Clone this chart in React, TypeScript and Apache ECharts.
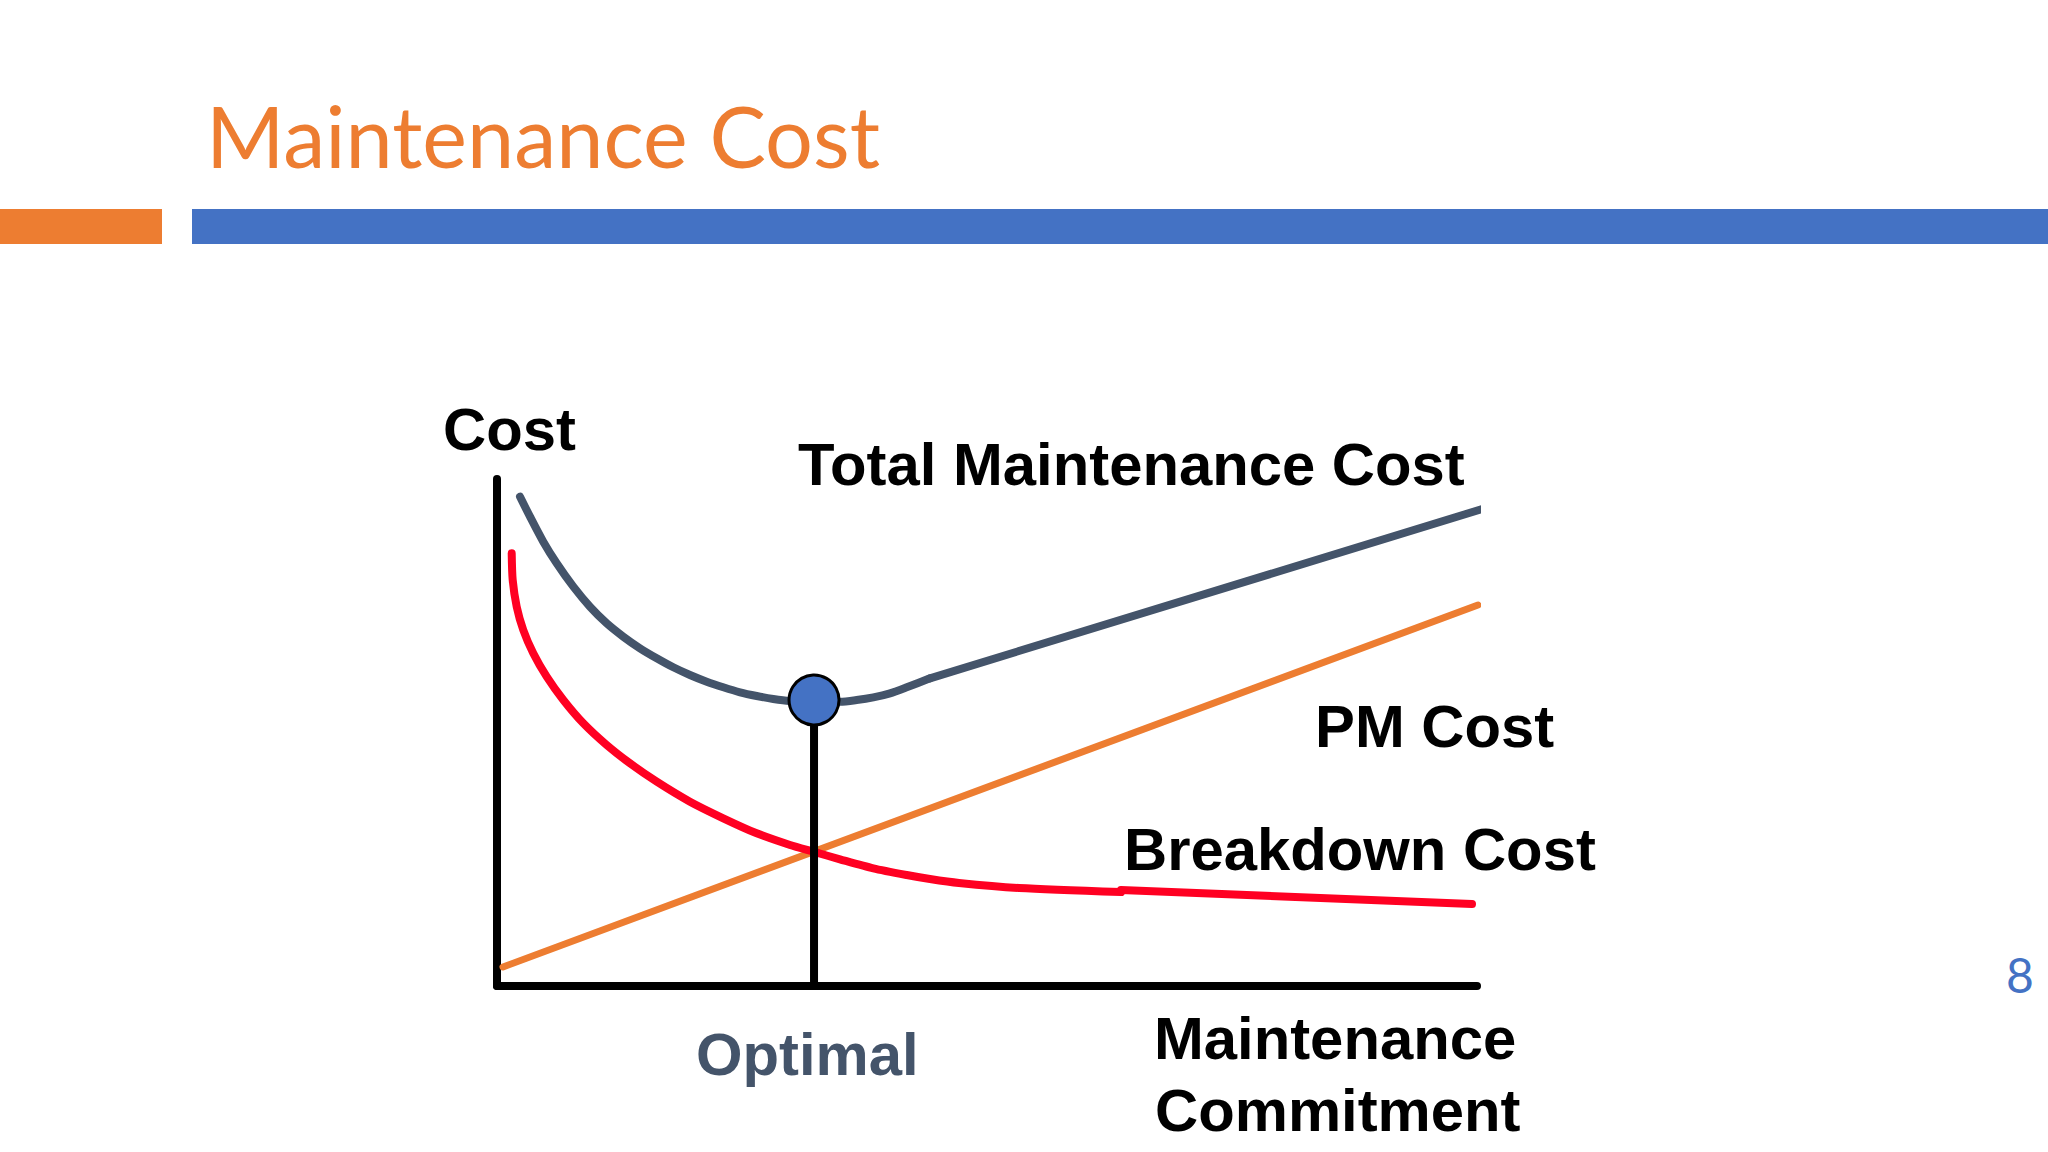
import React, { useEffect, useRef } from "react";
import * as echarts from "echarts";

// Data units: x = maintenance commitment (0..100), y = cost (0..100)
const totalCostCurve: [number, number][] = [
  [2.35, 96.51], [3.37, 92.57], [4.72, 87.63], [6.09, 83.37], [7.79, 78.76],
  [9.49, 74.81], [11.19, 71.54], [12.89, 68.9], [14.59, 66.61], [16.3, 64.64],
  [17.99, 62.86], [19.69, 61.34], [21.4, 60.02], [23.09, 58.92], [24.8, 57.93],
  [26.5, 57.2], [28.19, 56.61], [29.9, 56.21], [32.24, 56.07], [35.0, 56.07],
  [36.7, 56.41], [38.4, 56.94], [40.1, 57.73], [41.81, 58.92], [44.18, 60.69],
];
const totalCostLine: [number, number][] = [
  [44.18, 60.69], [101.22, 94.48],
];
const breakdownCurve: [number, number][] = [
  [1.5, 85.35], [1.6, 80.08], [2.01, 74.81], [2.68, 70.22], [3.7, 65.62],
  [5.07, 61.01], [6.77, 56.41], [8.81, 51.81], [11.19, 47.53], [13.57, 43.92],
  [16.3, 40.3], [19.69, 36.35], [23.09, 33.08], [26.5, 30.12], [29.9, 27.81],
  [32.28, 26.49], [35.0, 24.99], [38.4, 23.21], [41.81, 21.89], [44.18, 21.1],
  [47.14, 20.32], [53.27, 19.33], [63.67, 18.54],
];
const breakdownLine: [number, number][] = [
  [63.67, 18.93], [99.49, 16.17],
];
const pmCost: [number, number][] = [
  [0.61, 3.75], [100.1, 75.15],
];
const optimalX = 32.35;
const optimalY = 56.41;

const titleText = "Maintenance Cost";
const yAxisLabel = "Cost";
const xAxisLabel = ["Maintenance", "Commitment"];
const seriesLabels = ["Total Maintenance Cost", "PM Cost", "Breakdown Cost"];
const optimalLabel = "Optimal";
const pageNumber = "8";

const ARIAL = "'Liberation Sans', Arial, sans-serif";
const CALIBRI = "Lato, 'Open Sans', sans-serif";
const FS = 59.8;

function txt(text: string, x: number, y: number, size: number, fill: string, family: string, weight: string) {
  return {
    type: "text",
    x,
    y,
    style: {
      text,
      fill,
      fontSize: size,
      fontFamily: family,
      fontWeight: weight,
      align: "left",
      verticalAlign: "middle",
    },
    z: 10,
  };
}

function lineSeries(name: string, data: [number, number][], color: string, width: number, smooth: number | boolean, z: number) {
  return {
    name,
    type: "line",
    data,
    showSymbol: false,
    smooth,
    clip: false,
    lineStyle: { color, width, cap: "round", join: "round" },
    z,
  };
}

export default function App() {
  const ref = useRef<HTMLDivElement>(null);
  useEffect(() => {
    if (!ref.current) return;
    const chart = echarts.init(ref.current, undefined, { renderer: "svg" });
    chart.setOption({
      animation: false,
      backgroundColor: "#ffffff",
      grid: { left: 497, top: 479, width: 980, height: 507, containLabel: false },
      xAxis: {
        type: "value",
        min: 0,
        max: 100,
        axisLine: { show: true, lineStyle: { color: "#000", width: 8, cap: "round" } },
        axisTick: { show: false },
        axisLabel: { show: false },
        splitLine: { show: false },
      },
      yAxis: {
        type: "value",
        min: 0,
        max: 100,
        axisLine: { show: true, lineStyle: { color: "#000", width: 8, cap: "round" } },
        axisTick: { show: false },
        axisLabel: { show: false },
        splitLine: { show: false },
      },
      series: [
        lineSeries("PM Cost", pmCost, "#ED7D31", 7, false, 2),
        lineSeries("Breakdown Cost", breakdownCurve, "#FF0022", 8, 0.25, 3),
        lineSeries("Breakdown Cost", breakdownLine, "#FF0022", 8, false, 3),
        lineSeries("Total Maintenance Cost", totalCostCurve, "#44546A", 8, 0.25, 4),
        lineSeries("Total Maintenance Cost", totalCostLine, "#44546A", 8, false, 4),
        {
          name: "Optimal line",
          type: "line",
          data: [[optimalX, 0], [optimalX, optimalY]],
          showSymbol: false,
          clip: false,
          lineStyle: { color: "#000", width: 8 },
          z: 5,
        },
        {
          name: "Optimal",
          type: "scatter",
          data: [[optimalX, optimalY]],
          symbol: "circle",
          symbolSize: 50,
          clip: false,
          itemStyle: { color: "#4472C4", borderColor: "#000", borderWidth: 3, opacity: 1 },
          z: 6,
        },
      ],
      graphic: [
        { type: "rect", shape: { x: 0, y: 209, width: 162, height: 35 }, style: { fill: "#ED7D31" } },
        { type: "rect", shape: { x: 192, y: 209, width: 1856, height: 35 }, style: { fill: "#4472C4" } },
        txt(titleText, 206, 134.5, 84.6, "#ED7D31", CALIBRI, "normal"),
        txt(yAxisLabel, 443, 429.6, FS, "#000", ARIAL, "bold"),
        txt(seriesLabels[0], 798, 464.6, FS, "#000", ARIAL, "bold"),
        txt(seriesLabels[1], 1315, 726.6, FS, "#000", ARIAL, "bold"),
        txt(seriesLabels[2], 1124, 849.6, FS, "#000", ARIAL, "bold"),
        txt(optimalLabel, 696, 1054.6, FS, "#44546A", ARIAL, "bold"),
        txt(xAxisLabel[0], 1154, 1038.6, FS, "#000", ARIAL, "bold"),
        txt(xAxisLabel[1], 1155, 1110.6, FS, "#000", ARIAL, "bold"),
        txt(pageNumber, 2006, 974.4, 48, "#4472C4", CALIBRI, "normal"),
      ],
    });
    return () => chart.dispose();
  }, []);
  return (
    <div
      ref={ref}
      style={{ position: "fixed", left: 0, top: 0, width: 2048, height: 1152, background: "#fff" }}
    />
  );
}
